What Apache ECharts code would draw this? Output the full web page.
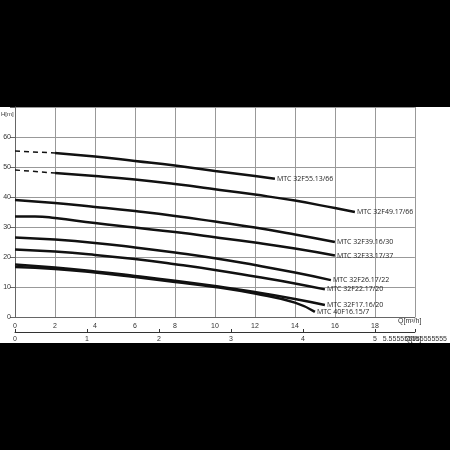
<!DOCTYPE html><html><head><meta charset="utf-8"><script src="https://cdn.jsdelivr.net/npm/echarts@6/dist/echarts.min.js"></script>
<style>body{margin:0;background:#000}#w{position:absolute;left:0;top:107px;width:450px;height:236px;background:#fff}#c{position:absolute;left:0;top:0;width:450px;height:450px}</style></head><body><div id="w"></div><div id="c"></div><script>
const names=["MTC 32F55.13/66","MTC 32F49.17/66","MTC 32F39.16/30","MTC 32F33.17/37","MTC 32F26.17/22","MTC 32F22.17/20","MTC 32F17.16/20","MTC 40F16.15/7"];
const curves=[
[[2,54.7],[4,53.5],[6,52],[8,50.5],[10,48.7],[12,47],[13,46.1]],
[[2,48],[4,47],[6,45.8],[8,44.3],[10,42.6],[12,40.8],[14,38.8],[16,36.3],[17,35]],
[[0,39],[2,38],[4,36.7],[6,35.3],[8,33.7],[10,31.8],[12,29.8],[14,27.5],[16,25]],
[[0,33.5],[1,33.5],[2,33],[4,31.3],[6,29.8],[8,28.3],[10,26.6],[12,24.8],[14,22.8],[16,20.5]],
[[0,26.5],[2,25.8],[4,24.7],[6,23.2],[8,21.5],[10,19.6],[12,17.3],[14,14.8],[15.8,12.3]],
[[0,22.5],[2,21.8],[4,20.7],[6,19.3],[8,17.6],[10,15.7],[12,13.5],[14,11.2],[15.5,9.2]],
[[0,17.5],[2,16.5],[4,15.2],[6,13.7],[8,12.1],[10,10.3],[12,8.3],[14,6],[15.5,4]],
[[0,16.7],[2,16],[4,14.8],[6,13.3],[8,11.7],[10,10],[12,7.8],[14,4.8],[15,1.7]]];
const dashed=[[[0,55.3],[2,54.7]],[[0,49],[2,48]]];
const ch=echarts.init(document.getElementById('c'));
const series=curves.map((d,i)=>({type:'line',data:d,smooth:true,symbol:'none',lineStyle:{color:'#111',width:2.5},
 endLabel:{show:true,formatter:names[i],fontSize:7,color:'#222',fontFamily:'Open Sans',distance:2}}));
dashed.forEach(d=>series.push({type:'line',data:d,symbol:'none',lineStyle:{color:'#111',width:1.5,type:[5,4]}}));
ch.setOption({animation:false,
grid:{left:15,right:30,top:107,bottom:133},
xAxis:[{type:'value',min:0,max:20,interval:2,axisLine:{lineStyle:{color:'#666'}},axisTick:{show:false},
 splitLine:{lineStyle:{color:'#999'}},axisLabel:{fontSize:7,color:'#333',formatter:v=>v==20?'':v,margin:6}},
 {type:'value',min:0,max:20/3.6,interval:1,position:'bottom',offset:15,axisLine:{show:true,lineStyle:{color:'#333'}},
 axisTick:{show:true,inside:true,length:3},splitLine:{show:false},axisLabel:{fontSize:7,color:'#333',margin:4}}],
yAxis:{type:'value',min:0,max:70,interval:10,axisLine:{show:true,lineStyle:{color:'#666'}},splitLine:{lineStyle:{color:'#999'}},
 axisLabel:{fontSize:7,color:'#333',formatter:v=>v==70?'':v,margin:4}},
graphic:[{type:'text',left:1,top:111,style:{text:'H[m]',fontSize:6,fill:'#333'}},
{type:'text',left:398,top:318,style:{text:'Q[m³/h]',fontSize:7,fill:'#333'}},
{type:'text',left:405,top:336,style:{text:'Q[l/s]',fontSize:7,fill:'#333'}}],
series});
</script></body></html>
